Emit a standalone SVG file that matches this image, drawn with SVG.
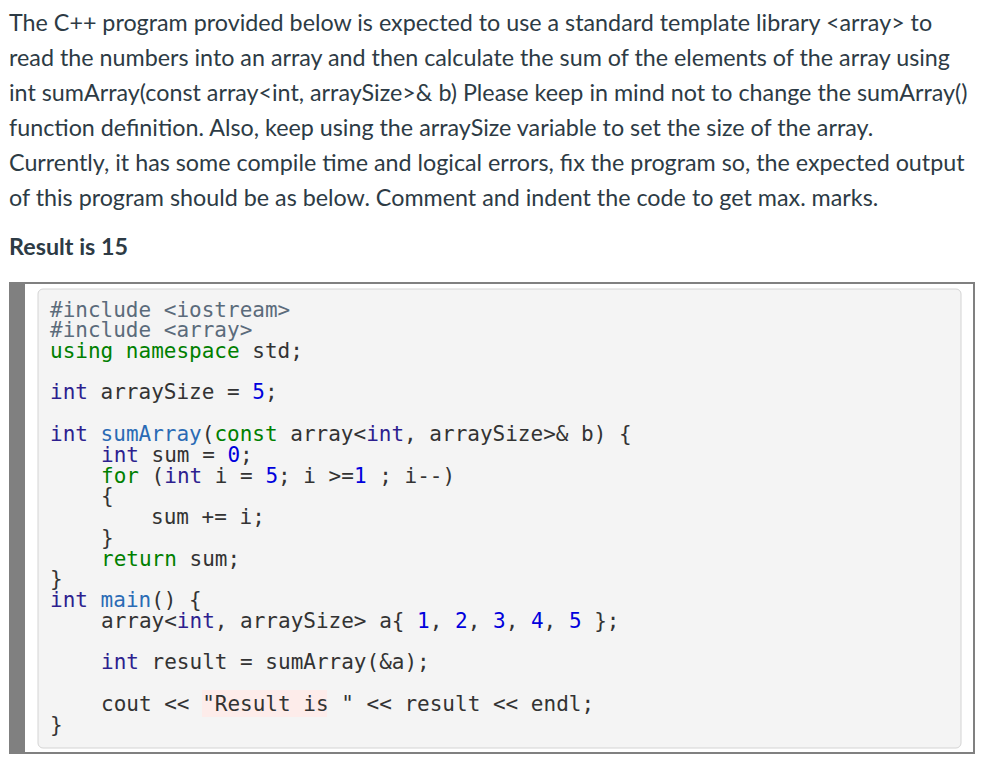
<svg xmlns="http://www.w3.org/2000/svg" width="997" height="768" viewBox="0 0 997 768">
<style>
.p{font-family:Lato,"Liberation Sans",sans-serif;font-size:23.3px;fill:#2d3b45}
.c{font-family:"DejaVu Sans Mono","Liberation Mono",monospace;font-size:21px;fill:#333;white-space:pre}
.g{fill:#5b6b7b}.k{fill:#008000}.t{fill:#2e1f8f}.f{fill:#2a6bb5}.n{fill:#0000dd}
</style>
<rect width="997" height="768" fill="#fff"/>
<g id="prose" class="p">
<text x="9" y="31">The C++ program provided below is expected to use a standard template library &lt;array&gt; to</text>
<text x="9" y="66">read the numbers into an array and then calculate the sum of the elements of the array using</text>
<text x="9" y="101">int sumArray(const array&lt;int, arraySize&gt;&amp; b) Please keep in mind not to change the sumArray()</text>
<text x="9" y="136">function definition. Also, keep using the arraySize variable to set the size of the array.</text>
<text x="9" y="171">Currently, it has some compile time and logical errors, fix the program so, the expected output</text>
<text x="9" y="206">of this program should be as below. Comment and indent the code to get max. marks.</text>
<text x="9" y="255" font-weight="bold">Result is 15</text>
</g>
<g id="codebox">
<rect x="10" y="283" width="964" height="470" fill="#fff" stroke="#808080" stroke-width="2"/>
<rect x="9" y="282" width="16" height="472" fill="#808080"/>
<rect x="38" y="289" width="923" height="459" rx="5" fill="#f4f4f4" stroke="#d4d4d4"/>
<rect x="202" y="690" width="125" height="27" fill="#fdecea"/>
</g>
<g id="code" class="c">
<text x="50" y="317" class="g">#include &lt;iostream&gt;</text>
<text x="50" y="337" class="g">#include &lt;array&gt;</text>
<text x="50" y="358"><tspan class="k">using namespace</tspan> std;</text>
<text x="50" y="399"><tspan class="t">int</tspan> arraySize = <tspan class="n">5</tspan>;</text>
<text x="50" y="441"><tspan class="t">int</tspan> <tspan class="f">sumArray</tspan>(<tspan class="k">const</tspan> array&lt;<tspan class="t">int</tspan>, arraySize&gt;&amp; b) {</text>
<text x="101" y="462"><tspan class="t">int</tspan> sum = <tspan class="n">0</tspan>;</text>
<text x="101" y="483"><tspan class="k">for</tspan> (<tspan class="t">int</tspan> i = <tspan class="n">5</tspan>; i &gt;=<tspan class="n">1</tspan> ; i--)</text>
<text x="101" y="503">{</text>
<text x="151" y="524">sum += i;</text>
<text x="101" y="545">}</text>
<text x="101" y="566"><tspan class="k">return</tspan> sum;</text>
<text x="50" y="586">}</text>
<text x="50" y="607"><tspan class="t">int</tspan> <tspan class="f">main</tspan>() {</text>
<text x="101" y="628">array&lt;<tspan class="t">int</tspan>, arraySize&gt; a{ <tspan class="n">1</tspan>, <tspan class="n">2</tspan>, <tspan class="n">3</tspan>, <tspan class="n">4</tspan>, <tspan class="n">5</tspan> };</text>
<text x="101" y="669"><tspan class="t">int</tspan> result = sumArray(&amp;a);</text>
<text x="101" y="711">cout &lt;&lt; "Result is " &lt;&lt; result &lt;&lt; endl;</text>
<text x="50" y="732">}</text>
</g>
</svg>
